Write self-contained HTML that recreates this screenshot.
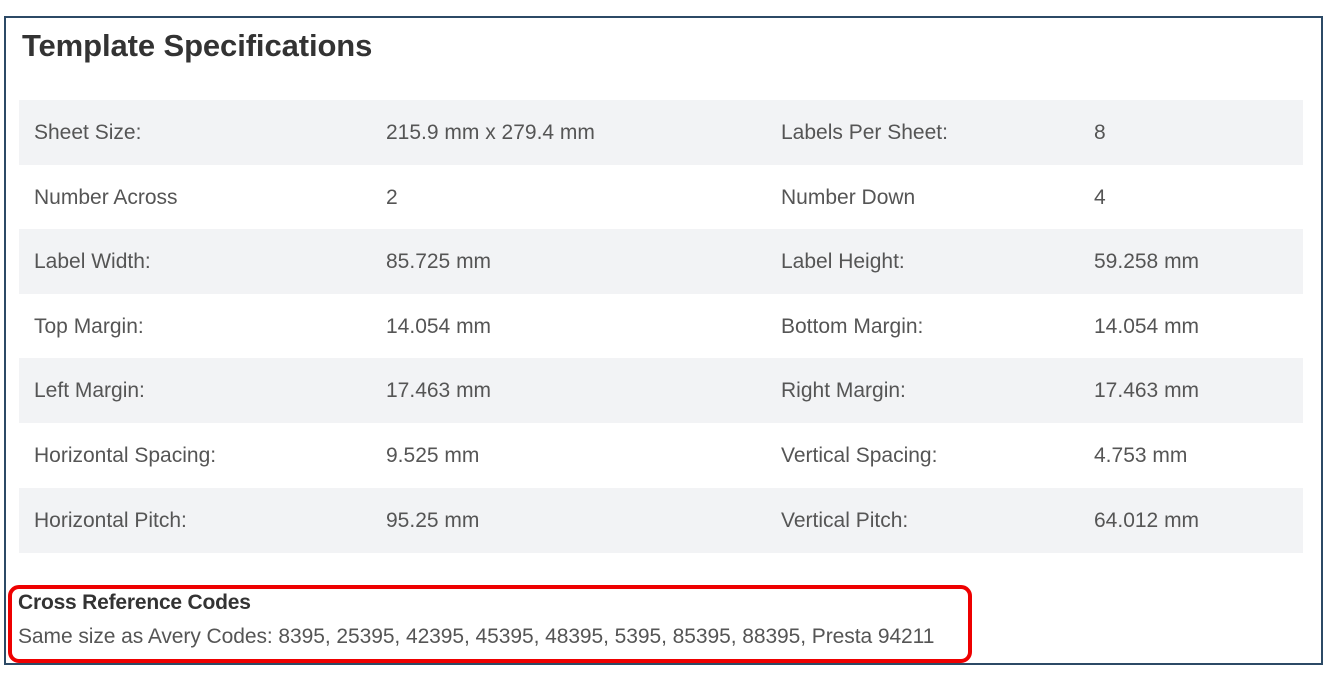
<!DOCTYPE html><html><head><style>
body{margin:0;width:1331px;height:679px;background:#fff;position:relative;font-family:"Liberation Sans",sans-serif;overflow:hidden}
.box{position:absolute;left:4px;top:16px;width:1315px;height:645px;border:2px solid #2c4a66}
.t{position:absolute;left:22px;top:28px;font-size:31px;font-weight:bold;color:#333;letter-spacing:-0.1px}
.r{position:absolute;left:19px;width:1284px;height:65px}
.r.g{background:#f2f3f5}
.r span{position:absolute;top:0;line-height:65px;font-size:21px;color:#555}
.red{position:absolute;left:8px;top:585px;width:956px;height:70px;border:4px solid #e00;border-radius:11px}
.c1{position:absolute;left:18px;top:591px;font-size:21px;font-weight:bold;color:#333;letter-spacing:-0.2px}
.c2{position:absolute;left:18px;top:625px;font-size:21px;color:#555;letter-spacing:-0.07px}
</style></head><body>
<div class="box"></div>
<div class="t">Template Specifications</div>
<div class="r g" style="top:100px"><span style="left:15px">Sheet Size:</span><span style="left:367px">215.9 mm x 279.4 mm</span><span style="left:762px">Labels Per Sheet:</span><span style="left:1075px">8</span></div>
<div class="r" style="top:165px"><span style="left:15px">Number Across</span><span style="left:367px">2</span><span style="left:762px">Number Down</span><span style="left:1075px">4</span></div>
<div class="r g" style="top:229px"><span style="left:15px">Label Width:</span><span style="left:367px">85.725 mm</span><span style="left:762px">Label Height:</span><span style="left:1075px">59.258 mm</span></div>
<div class="r" style="top:294px"><span style="left:15px">Top Margin:</span><span style="left:367px">14.054 mm</span><span style="left:762px">Bottom Margin:</span><span style="left:1075px">14.054 mm</span></div>
<div class="r g" style="top:358px"><span style="left:15px">Left Margin:</span><span style="left:367px">17.463 mm</span><span style="left:762px">Right Margin:</span><span style="left:1075px">17.463 mm</span></div>
<div class="r" style="top:423px"><span style="left:15px">Horizontal Spacing:</span><span style="left:367px">9.525 mm</span><span style="left:762px">Vertical Spacing:</span><span style="left:1075px">4.753 mm</span></div>
<div class="r g" style="top:488px"><span style="left:15px">Horizontal Pitch:</span><span style="left:367px">95.25 mm</span><span style="left:762px">Vertical Pitch:</span><span style="left:1075px">64.012 mm</span></div>
<div class="red"></div>
<div class="c1">Cross Reference Codes</div>
<div class="c2">Same size as Avery Codes: 8395, 25395, 42395, 45395, 48395, 5395, 85395, 88395, Presta 94211</div>
</body></html>
